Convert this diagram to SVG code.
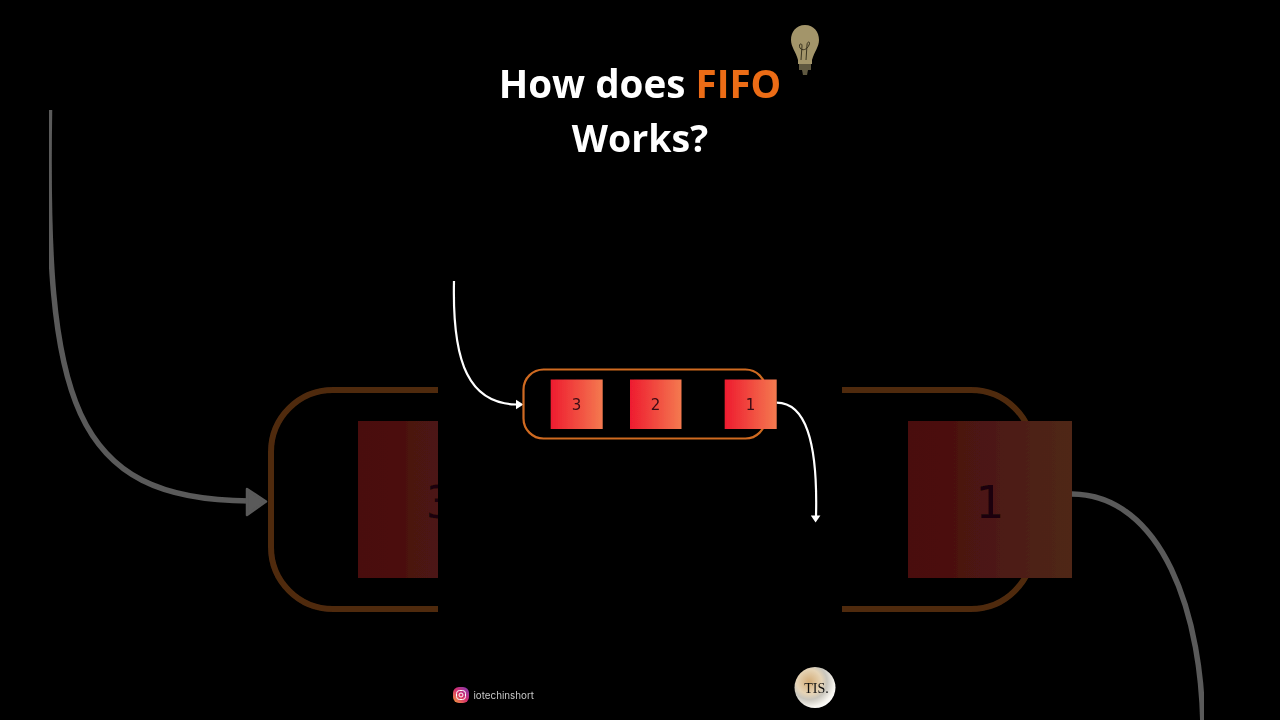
<svg xmlns="http://www.w3.org/2000/svg" width="1280" height="720" viewBox="0 0 1280 720">
<style>
.fgline{fill:none;stroke:#fff;stroke-width:2.200}
.bgline{fill:none;stroke:#5a5a5a;stroke-width:5.500}
.title{font-family:"Open Sans","Liberation Sans",sans-serif;font-weight:700;text-anchor:middle}
.num{font-family:"DejaVu Sans",sans-serif;font-size:15px;text-anchor:middle;fill:#3a0a12}
.bgnum{font-family:"DejaVu Sans",sans-serif;font-size:45px;text-anchor:middle;fill:#1a0508}
</style>
<defs>
<filter id="soft" x="0" y="0" width="1" height="1" filterUnits="objectBoundingBox"><feGaussianBlur stdDeviation="0.450"/></filter>
<linearGradient id="sq"><stop offset="0" stop-color="#ee1b2f"/><stop offset="1" stop-color="#f47a50"/></linearGradient>
<linearGradient id="bgsq"><stop offset="0" stop-color="#4a080e"/><stop offset="1" stop-color="#4f2817"/></linearGradient>
<linearGradient id="ig" x1="0" y1="1" x2="1" y2="0"><stop offset="0" stop-color="#f5a13c"/><stop offset=".5" stop-color="#d62f6d"/><stop offset="1" stop-color="#7a3ab8"/></linearGradient>
<radialGradient id="pearl" cx=".36" cy=".36" r=".72"><stop offset="0" stop-color="#d4ad78"/><stop offset=".42" stop-color="#e6d4b6"/><stop offset=".6" stop-color="#c9c6bd"/><stop offset=".85" stop-color="#f6f4ee"/><stop offset="1" stop-color="#ffffff"/></radialGradient>
</defs>
<rect width="1280" height="720" fill="#000"/>
<g filter="url(#soft)">
<g id="background-view">
<rect x="271" y="390" width="762" height="219" rx="62" fill="none" stroke="#4f2a10" stroke-width="6"/>
<path class="bgline" d="M49.500 110C45 400 70 500 250 501"/>
<path d="M247 489L266 501.500L247 515Z" fill="#5a5a5a" stroke="#5a5a5a" stroke-width="2.500" stroke-linejoin="round"/>
<path class="bgline" d="M1072 494C1161 495 1204 611 1203 740"/>
<rect x="358" y="421" width="164" height="157" fill="url(#bgsq)"/>
<text class="bgnum" x="440" y="518">3</text>
<rect x="908" y="421" width="164" height="157" fill="url(#bgsq)"/>
<text class="bgnum" x="990" y="518">1</text>
</g>
<rect id="center-panel" x="438" y="0" width="404" height="720" fill="#000"/>
<g id="title">
<text class="title" x="640" y="98" font-size="38.600" fill="#fff">How does <tspan fill="#ec6c12">FIFO</tspan></text>
<text class="title" x="640" y="152" font-size="37.500" fill="#fff">Works?</text>
</g>
<g id="bulb">
<path d="M805 25C814 25 819 32 819 40C819 47 814 52 812 60V64H798V60C796 52 791 47 791 40C791 32 796 25 805 25Z" fill="#a3956a"/>
<path d="M799 64H811V70H808L807 75H803L802 70H799Z" fill="#5f5840"/>
<path d="M801 60L802 46C802 42 798 44 800 48C802 51 807 50 809 45C811 41 807 41 807 45L806 60" fill="none" stroke="#3a3420" stroke-width="1"/>
</g>
<g id="connectors">
<path class="fgline" d="M454 281C452 365 470 404 517 404.500"/>
<path d="M516 399.800L523.500 404.500L516 409.200Z" fill="#fff"/>
<path class="fgline" d="M776.700 402.700C805 403 818 440 816 517"/>
<path d="M810.800 515.500H820.400L815.600 522.500Z" fill="#fff"/>
</g>
<g id="queue">
<rect x="523.500" y="369.500" width="242" height="69" rx="20" fill="none" stroke="#cf6a20" stroke-width="2.200"/>
</g>
<g id="node-3"><rect x="550.700" y="379.500" width="52" height="49.500" fill="url(#sq)"/><text class="num" x="576.500" y="409.500">3</text></g>
<g id="node-2"><rect x="630" y="379.500" width="51.500" height="49.500" fill="url(#sq)"/><text class="num" x="655.500" y="409.500">2</text></g>
<g id="node-1"><rect x="724.700" y="379.500" width="52" height="49.500" fill="url(#sq)"/><text class="num" x="750.500" y="409.500">1</text></g>
<g id="instagram">
<rect x="453" y="687" width="16" height="16" rx="6" fill="url(#ig)"/>
<rect x="456.500" y="690.500" width="9" height="9" rx="3" fill="none" stroke="#fff" stroke-width="1"/>
<circle cx="461" cy="695" r="2" fill="none" stroke="#fff" stroke-width="1"/>
<text x="473.500" y="698.500" font-family="Inter,'Liberation Sans',sans-serif" font-size="9.800" fill="#c8c8c8">iotechinshort</text>
</g>
<g id="logo">
<circle cx="815" cy="687.500" r="20.500" fill="url(#pearl)"/>
<text x="816.500" y="692.500" font-family="'Liberation Serif',serif" font-size="14" text-anchor="middle" fill="#111">TIS.</text>
</g>
</g>
</svg>
